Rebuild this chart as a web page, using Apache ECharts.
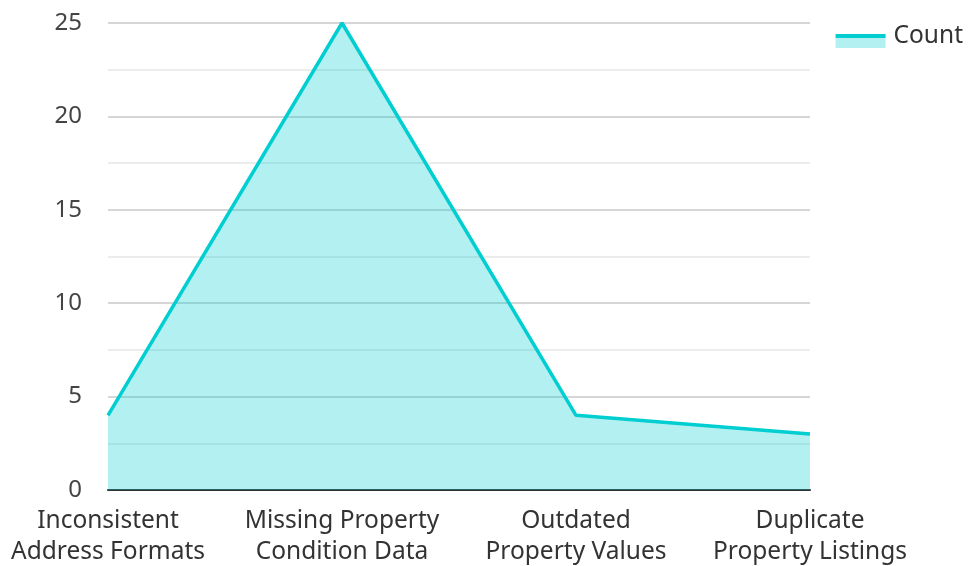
<!DOCTYPE html>
<html>
<head>
<meta charset="utf-8">
<script src="https://cdn.jsdelivr.net/npm/echarts@6/dist/echarts.min.js"></script>
<style>html,body{margin:0;padding:0;background:#fff}#c{width:968px;height:566px}</style>
</head>
<body>
<div id="c"></div>
<script>
const categories = ["Inconsistent\nAddress Formats", "Missing Property\nCondition Data", "Outdated\nProperty Values", "Duplicate\nProperty Listings"];
const countValues = [4, 25, 4, 3];
const seriesName = "Count";

const chart = echarts.init(document.getElementById('c'));
chart.setOption({
  animation: false,
  textStyle: { fontFamily: "Noto Sans" },
  grid: { left: 108, right: 158, top: 23, bottom: 76, containLabel: false, outerBoundsMode: 'none' },
  legend: {
    right: 5, top: 24, padding: 0,
    itemWidth: 50, itemHeight: 14, itemGap: 10,
    icon: 'rect',
    itemStyle: {
      color: new echarts.graphic.LinearGradient(0, 0, 0, 1, [
        { offset: 0, color: '#00CED1' },
        { offset: 0.27, color: '#00CED1' },
        { offset: 0.27, color: 'rgba(0,206,209,0.3)' },
        { offset: 1, color: 'rgba(0,206,209,0.3)' }
      ])
    },
    lineStyle: { width: 0 },
    formatter: '{t|{name}}',
    textStyle: {
      fontSize: 24.5, color: '#333', fontFamily: "Noto Sans",
      rich: { t: { fontSize: 24.5, color: '#333', fontFamily: "Noto Sans", padding: [0, 0, 9, 3] } }
    },
    data: [seriesName]
  },
  xAxis: {
    type: 'category',
    boundaryGap: false,
    data: categories,
    axisLine: { lineStyle: { color: '#333', width: 2 } },
    axisTick: { show: false },
    axisLabel: { interval: 0, fontSize: 24.5, color: '#333', lineHeight: 31, margin: 16, fontFamily: "Noto Sans" }
  },
  yAxis: {
    type: 'value',
    min: 0, max: 25, interval: 5,
    axisLine: { show: false },
    axisTick: { show: false },
    axisLabel: { fontSize: 24, color: '#444', margin: 26, fontFamily: "Noto Sans" },
    splitLine: { lineStyle: { color: '#c8c8c8', width: 1.5 } },
    minorTick: { show: false, splitNumber: 2 },
    minorSplitLine: { show: true, lineStyle: { color: '#e6e6e6', width: 1.5 } }
  },
  series: [{
    name: seriesName,
    type: 'line',
    data: countValues,
    symbol: 'none',
    lineStyle: { color: '#00CED1', width: 3.5 },
    itemStyle: { color: '#00CED1' },
    areaStyle: { color: '#00CED1', opacity: 0.3 }
  }]
});
</script>
</body>
</html>
